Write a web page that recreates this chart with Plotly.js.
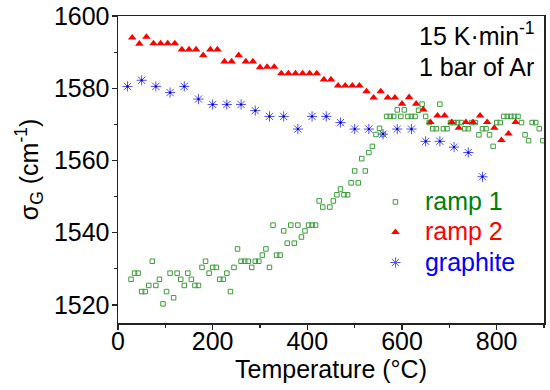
<!DOCTYPE html>
<html>
<head>
<meta charset="utf-8">
<script src="https://cdn.plot.ly/plotly-3.0.1.min.js"></script>
<style>html,body{margin:0;padding:0;background:#fff;}#chart{width:550px;height:390px;}</style>
</head>
<body>
<div id="chart"></div>
<script>
// ramp 1 (green open squares)
const ramp1T = [27.5,35,42.5,50,57.5,65,72.5,80,87.5,95,102.5,110,117.5,125,132.5,140,147.5,155,162.5,170,
  177.5,185,192.5,200,207.5,215,222.5,230,237.5,245,252.5,260,267.5,275,282.5,290,297.5,305,312.5,320,
  327.5,335,342.5,350,357.5,365,372.5,380,387.5,395,402.5,410,417.5,425,432.5,447.5,455,462.5,470,477.5,
  485,492.5,500,507.5,515,522.5,530,537.5,545,552.5,560,567.5,575,582.5,590,597.5,605,612.5,620,627.5,
  635,642.5,650,657.5,665,672.5,680,687.5,695,702.5,710,717.5,725,732.5,740,747.5,755,762.5,770,777.5,
  785,792.5,800,807.5,815,822.5,830,837.5,845,852.5,860,867.5,875,882.5,890,897.5];
const ramp1V = [1527.1,1528.8,1528.8,1523.7,1523.7,1525.4,1532.1,1525.4,1527.1,1520.3,1523.7,1528.8,1522.0,1528.8,1527.1,1525.4,1528.8,1527.1,1525.4,1525.4,
  1530.4,1532.1,1528.8,1530.4,1530.4,1527.1,1527.1,1528.8,1523.7,1530.4,1535.5,1532.1,1532.1,1532.1,1530.4,1532.1,1532.1,1533.8,1535.5,1530.4,
  1542.1,1533.8,1533.8,1540.5,1537.1,1542.1,1537.1,1542.1,1538.8,1540.5,1542.1,1542.1,1542.1,1548.8,1547.1,1547.1,1548.8,1550.5,1552.1,1550.5,
  1550.5,1553.8,1557.1,1553.8,1560.5,1557.1,1562.2,1563.9,1567.2,1568.9,1567.2,1572.2,1572.2,1572.2,1574.0,1572.2,1574.0,1572.2,1572.2,1572.2,
  1573.9,1575.6,1572.2,1570.5,1568.8,1568.8,1575.6,1568.8,1568.8,1570.5,1570.5,1570.5,1570.5,1568.8,1568.8,1570.5,1570.5,1567.1,1568.8,1568.8,
  1567.1,1563.9,1570.5,1570.5,1572.2,1572.2,1572.2,1572.2,1572.2,1570.5,1567.1,1565.5,1570.5,1570.5,1568.8,1565.5];

// ramp 2 (red filled triangles)
const ramp2T = [30,45,60,75,90,105,120,135,150,165,180,195,210,225,240,255,270,285,300,315,330,345,360,375,390,405,420,435,450,
  465,480,495,510,525,540,555,570,585,600,615,630,645,660,675,690,705,720,735,750,765,780,795,810,825,840];
const ramp2V = [1594.0,1592.3,1594.2,1592.4,1592.4,1592.4,1592.4,1590.7,1590.7,1590.7,1589.1,1590.7,1590.7,1587.4,1587.4,1589.1,1587.4,1587.4,1585.8,1585.9,
  1585.9,1584.1,1584.1,1584.1,1584.1,1584.1,1584.1,1582.4,1582.4,1580.7,1580.7,1580.7,1580.7,1579.1,1577.4,1579.1,1577.4,1577.4,1575.7,1577.5,
  1575.7,1574.1,1570.6,1572.4,1572.4,1570.6,1569.0,1570.6,1570.6,1572.4,1570.6,1569.0,1565.6,1567.4,1570.6];

// graphite (blue asterisks)
const graphT = [20,50,80,110,140,170,200,230,260,290,320,350,380,410,440,470,500,530,560,590,620,650,680,710,740,770];
const graphV = [1580.5,1582.2,1580.5,1578.8,1580.5,1577.0,1575.5,1575.5,1575.5,1573.8,1572.2,1572.2,1568.7,1572.2,1572.2,1570.5,1568.7,1568.7,1567.3,1568.7,
  1568.7,1565.3,1565.3,1563.7,1562.2,1555.5];

const seriesNames = ['ramp 1', 'ramp 2', 'graphite'];
const xTickVals = [0, 200, 400, 600, 800];
const yTickVals = [1520, 1540, 1560, 1580, 1600];

const FONT = 'Liberation Sans, Arial, sans-serif';
const FS = 25;

function legendName(name, color) {
  return '<span style="color:' + color + ';font-size:25px">' + name + '</span>';
}

const traces = [
  {x: ramp1T, y: ramp1V, type: 'scatter', mode: 'markers', name: legendName(seriesNames[0], '#008000'),
   marker: {symbol: 'square-open', size: 4.5, color: '#3a9e3a', line: {width: 1, color: '#3a9e3a'}}},
  {x: ramp2T, y: ramp2V, type: 'scatter', mode: 'markers', name: legendName(seriesNames[1], '#ff0000'),
   marker: {symbol: 'triangle-up', size: 7.5, color: '#ff0000', line: {width: 0}}},
  {x: graphT, y: graphV, type: 'scatter', mode: 'markers', name: legendName(seriesNames[2], '#0000ff'),
   marker: {symbol: 'asterisk-open', size: 8.5, color: '#5050ff', line: {width: 1, color: '#5050ff'}}},
  {x: graphT, y: graphV, type: 'scatter', mode: 'markers', showlegend: false, hoverinfo: 'skip',
   marker: {symbol: 'square', size: 2, color: '#00008b', line: {width: 0}}}
];

const layout = {
  width: 550, height: 390,
  margin: {l: 118, r: 6, t: 16, b: 67},
  paper_bgcolor: '#fff', plot_bgcolor: '#fff',
  font: {family: FONT, size: FS, color: '#000'},
  showlegend: true,
  legend: {x: 0.582, y: 0.46, xanchor: 'left', yanchor: 'top', bgcolor: 'rgba(0,0,0,0)',
           font: {family: FONT, size: 21}, itemwidth: 49, tracegroupgap: 0},
  xaxis: {
    range: [0, 900], tickvals: xTickVals, ticks: 'outside', ticklen: 5, tickwidth: 1.2, tickcolor: '#222',
    showline: true, linecolor: '#222', linewidth: 1.5, mirror: true, showgrid: false, zeroline: false,
    tickfont: {family: FONT, size: FS, color: '#000'}, ticklabelstandoff: -10,
    minor: {dtick: 100, ticks: 'outside', ticklen: 3, tickwidth: 1.2, tickcolor: '#222', showgrid: false},
    title: {text: 'Temperature (°C)', font: {family: FONT, size: FS, color: '#000'}, standoff: 0}
  },
  yaxis: {
    range: [1515, 1600], tickvals: yTickVals, ticks: 'outside', ticklen: 5, tickwidth: 1.2, tickcolor: '#222',
    showline: true, linecolor: '#222', linewidth: 1.5, mirror: true, showgrid: false, zeroline: false,
    tickfont: {family: FONT, size: FS, color: '#000'}, ticklabelstandoff: -3,
    minor: {dtick: 10, ticks: 'outside', ticklen: 3, tickwidth: 1.2, tickcolor: '#222', showgrid: false},
    title: {text: 'σ<sub>G</sub> (cm<sup>-1</sup>)', font: {family: FONT, size: FS, color: '#000'}, standoff: 8}
  },
  annotations: [
    {xref: 'paper', yref: 'paper', x: 0.701, y: 0.94, xanchor: 'left', yanchor: 'middle', showarrow: false,
     text: '15 K·min<sup>-1</sup>', font: {family: FONT, size: FS, color: '#000'}},
    {xref: 'paper', yref: 'paper', x: 0.701, y: 0.835, xanchor: 'left', yanchor: 'middle', showarrow: false,
     text: '1 bar of Ar', font: {family: FONT, size: FS, color: '#000'}}
  ]
};

Plotly.newPlot('chart', traces, layout, {displayModeBar: false, staticPlot: true});
</script>
</body>
</html>
